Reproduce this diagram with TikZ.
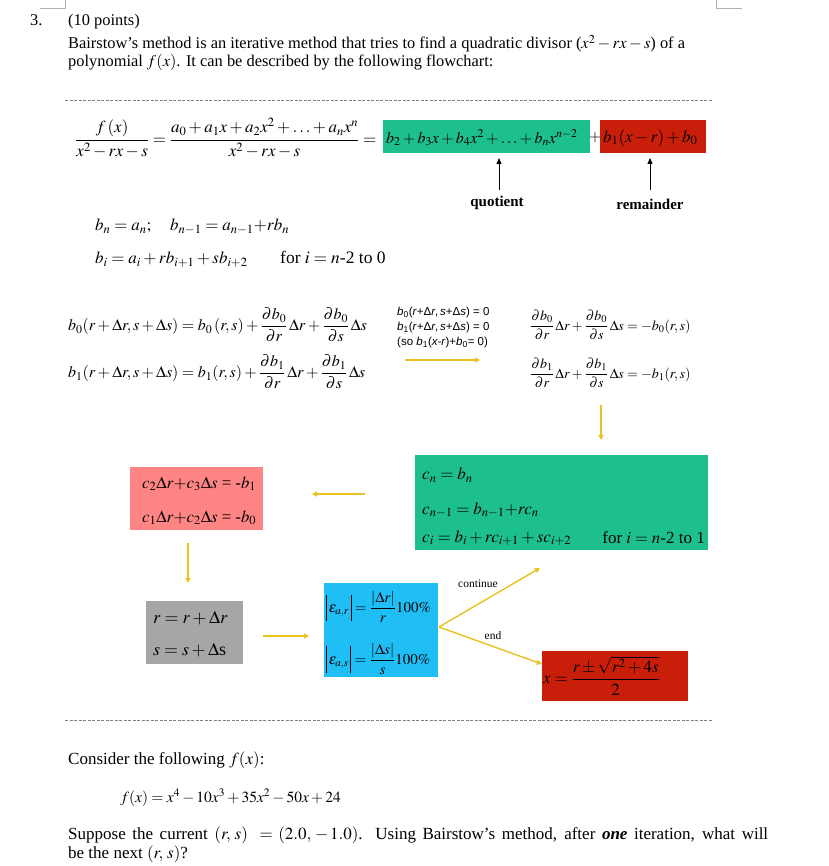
\documentclass[tikz,border=0pt]{standalone}
\usepackage{mathptmx}
\usepackage[no-math]{fontspec}
\setmainfont{Liberation Serif}
\newfontfamily\arialfont{Liberation Sans}
\usetikzlibrary{arrows.meta}
\definecolor{qgreen}{HTML}{1DBF8E}
\definecolor{qred}{HTML}{C81E0A}
\definecolor{qpink}{HTML}{FF8585}
\definecolor{qgrey}{HTML}{A6A6A6}
\definecolor{qcyan}{HTML}{1FBFF5}
\definecolor{qyellow}{HTML}{E8C21E}
\definecolor{qmark}{HTML}{B0B0B0}
\newcommand\fs[1]{\fontsize{#1}{#1}\selectfont}
\newcommand\tallbar{\rule[-0.55em]{0.06em}{1.75em}}
\begin{document}
\begin{tikzpicture}[x=1pt,y=-1pt,
  txt/.style={anchor=base west, inner sep=0pt, font=\fs{16.4}},
  btxt/.style={anchor=base west, inner sep=0pt, font=\fs{17}},
  eqn/.style={anchor=west, inner sep=0pt},
  boxn/.style={inner sep=0pt, draw=none},
  yarrow/.style={draw=qyellow, line width=1.4pt, -{Triangle[length=5pt,width=5pt]}},
  karrow/.style={draw=black, line width=0.9pt, -{Triangle[length=6pt,width=5pt]}},
  dashline/.style={draw=gray, dash pattern=on 3pt off 1.5pt, line width=0.6pt},
  markline/.style={draw=qmark, line width=0.6pt},
  small/.style={anchor=west, inner sep=0pt, font=\arialfont\fs{11.5}}]
\useasboundingbox (0,0) rectangle (828,866);
\fill[white] (0,0) rectangle (828,866);
% corner marks
\draw[markline] (40,8) -- (65,8) -- (65,0);
\draw[markline] (742,8) -- (716,8) -- (716,0);
% header text
\node[txt] (num) at (30,26) {3.};
\node[txt] (pts) at (68,26) {(10 points)};
\node[txt] (l2) at (68,49) {Bairstow’s method is an iterative method that tries to find a quadratic divisor ($x^2-rx-s$) of a};
\node[txt] (l3) at (68,67) {polynomial $f(x)$. It can be described by the following flowchart:};
% dashed lines
\draw[dashline] (65,100) -- (712,100);
\draw[dashline] (65,720) -- (712,720);
% boxes
\node[boxn, fill=qgreen, minimum width=207pt, minimum height=33pt] (g1) at (486.5,136.5) {};
\node[boxn, fill=qred, minimum width=106pt, minimum height=33pt] (r1) at (653,136.5) {};
\node[boxn, fill=qgreen, minimum width=293pt, minimum height=95pt] (g2) at (561.5,502.5) {};
\node[boxn, fill=qpink, minimum width=133pt, minimum height=63pt] (pk) at (196.5,498.5) {};
\node[boxn, fill=qgrey, minimum width=97pt, minimum height=63pt] (gr) at (194.5,632.5) {};
\node[boxn, fill=qcyan, minimum width=114pt, minimum height=94pt] (cy) at (381,630) {};
\node[boxn, fill=qred, minimum width=146pt, minimum height=50pt] (r2) at (615,676) {};
% row 1
\node[eqn, font=\fs{17}] (lhs) at (75,138) {$\displaystyle\frac{f\,(x)}{x^2-rx-s}=\frac{a_0+a_1x+a_2x^2+\ldots+a_nx^n}{x^2-rx-s}=$};
\node[eqn, font=\fs{16}] (quo) at (386,138) {$b_2+b_3x+b_4x^2+\ldots+b_nx^{n-2}$};
\node[font=\fs{16}, inner sep=0pt] (pl) at (595,138) {$+$};
\node[eqn, font=\fs{17}] (rem) at (603,138) {$b_1(x-r)+b_0$};
\node[font=\bfseries\fs{15}, inner sep=0pt] (quot) at (497,203) {quotient};
\node[font=\bfseries\fs{15}, inner sep=0pt] (remd) at (650,204) {remainder};
\coordinate (qa) at (499,190); \coordinate (qb) at (499,158);
\coordinate (ra) at (650,190); \coordinate (rb) at (650,158);
\draw[karrow] (qa) -- (qb);
\draw[karrow] (ra) -- (rb);
% b recurrences
\node[txt, font=\fs{17}] (bn) at (95,231) {$b_n=a_n;$};
\node[txt, font=\fs{17}] (bn1) at (170,231) {$b_{n-1}=a_{n-1}{+}rb_n$};
\node[txt, font=\fs{17}] (bi) at (95,264) {$b_i=a_i+rb_{i+1}+sb_{i+2}$};
\node[txt, font=\fs{17.5}] (bfor) at (280,264) {for $i=n$-2 to 0};
% Taylor
\node[eqn, font=\fs{16}] (t0) at (68,325) {$\displaystyle b_0(r+\Delta r,s+\Delta s)=b_0\,(r,s)+\frac{\partial b_0}{\partial r}\,\Delta r+\frac{\partial b_0}{\partial s}\,\Delta s$};
\node[eqn, font=\fs{16}] (t1) at (68,372) {$\displaystyle b_1(r+\Delta r,s+\Delta s)=b_1(r,s)+\frac{\partial b_1}{\partial r}\,\Delta r+\frac{\partial b_1}{\partial s}\,\Delta s$};
\node[small] (s1) at (397,313) {\textit{b}\textsubscript{0}(\textit{r}+Δ\textit{r},\,\textit{s}+Δ\textit{s}) = 0};
\node[small] (s2) at (397,328) {\textit{b}\textsubscript{1}(\textit{r}+Δ\textit{r},\,\textit{s}+Δ\textit{s}) = 0};
\node[small] (s3) at (397,343) {(so \textit{b}\textsubscript{1}(\textit{x-r})+\textit{b}\textsubscript{0}= 0)};
\coordinate (y1a) at (405,360); \coordinate (y1b) at (480,360);
\draw[yarrow] (y1a) -- (y1b);
\node[eqn, font=\fs{14}] (e0) at (530,325) {$\displaystyle\frac{\partial b_0}{\partial r}\,\Delta r+\frac{\partial b_0}{\partial s}\,\Delta s=-b_0(r,s)$};
\node[eqn, font=\fs{14}] (e1) at (530,373) {$\displaystyle\frac{\partial b_1}{\partial r}\,\Delta r+\frac{\partial b_1}{\partial s}\,\Delta s=-b_1(r,s)$};
\coordinate (y2a) at (601,405); \coordinate (y2b) at (601,440);
\draw[yarrow] (y2a) -- (y2b);
% c recurrences
\node[eqn, font=\fs{17}] (cn) at (422,475) {$c_n=b_n$};
\node[eqn, font=\fs{17}] (cn1) at (422,510) {$c_{n-1}=b_{n-1}{+}rc_n$};
\node[eqn, font=\fs{17}] (ci) at (422,538) {$c_i=b_i+rc_{i+1}+sc_{i+2}$};
\node[anchor=east, inner sep=0pt, font=\fs{17}] (cfor) at (705,538) {for $i=n$-2 to 1};
\coordinate (y3a) at (365,494); \coordinate (y3b) at (312,494);
\draw[yarrow] (y3a) -- (y3b);
% pink
\node[eqn, font=\fs{16.8}] (p1) at (142,484) {$c_2\Delta r{+}c_3\Delta s$ = -$b_1$};
\node[eqn, font=\fs{16.8}] (p2) at (142,518) {$c_1\Delta r{+}c_2\Delta s$ = -$b_0$};
\coordinate (y4a) at (188,543); \coordinate (y4b) at (188,583);
\draw[yarrow] (y4a) -- (y4b);
% grey
\node[eqn, font=\fs{18}] (g1t) at (153,618) {$r=r+\Delta r$};
\node[eqn, font=\fs{18}] (g2t) at (153,650) {$s=s+\Delta$s};
\coordinate (y5a) at (263,636); \coordinate (y5b) at (309,636);
\draw[yarrow] (y5a) -- (y5b);
% cyan
\node[eqn, font=\fs{15}] (c1t) at (326,607) {$\displaystyle\tallbar\,\varepsilon_{a,r}\,\tallbar=\frac{|\Delta r|}{r}100\%$};
\node[eqn, font=\fs{15}] (c2t) at (326,659) {$\displaystyle\tallbar\,\varepsilon_{a,s}\,\tallbar=\frac{|\Delta s|}{s}100\%$};
\coordinate (jn) at (439,627);
\coordinate (ct) at (540,568);
\draw[yarrow] (jn) -- (ct);
\draw[yarrow] (jn) -- (r2.west |- 0,664);
\node[inner sep=0pt, font=\fs{11.5}] (cont) at (478,584) {continue};
\node[inner sep=0pt, font=\fs{11.5}] (endl) at (493,636) {end};
% red result
\node[eqn, font=\fs{17}] (xr) at (543,676) {$\displaystyle x=\frac{r\pm\sqrt{r^2+4s}}{2}$};
% bottom text
\node[btxt] (b1) at (68,764) {Consider the following $f(x)$:};
\node[btxt, font=\fs{15.5}] (b2) at (120,802) {$f(x)=x^4-10x^3+35x^2-50x+24$};
\node[btxt] (b3) at (68,839) {\makebox[700pt][s]{Suppose the current $(r,\,s)$ $\;=(2.0,\,-\,1.0)$. Using Bairstow’s method, after \textbf{\textit{one}} iteration, what will}};
\node[btxt] (b4) at (68,858) {be the next $(r,\,s)$?};
\end{tikzpicture}
\end{document}
